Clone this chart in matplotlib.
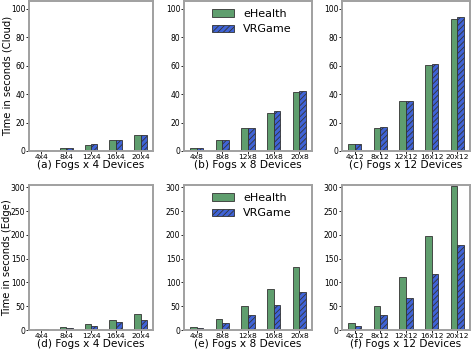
import matplotlib
matplotlib.use("Agg")
import matplotlib.pyplot as plt
import numpy as np

plt.rcParams['hatch.color'] = '#1a2a66'
plt.rcParams['hatch.linewidth'] = 0.6

fogs = ["4", "8", "12", "16", "20"]
devices = [4, 8, 12]
series_names = ["eHealth", "VRGame"]

cloud_ehealth = {4: [0.8, 2.3, 4.5, 7.5, 11.0],
                 8: [2.3, 7.5, 16.0, 27.0, 41.5],
                 12: [4.8, 16.2, 35.0, 60.3, 92.5]}
cloud_vrgame = {4: [0.9, 2.4, 4.8, 7.7, 11.3],
                8: [2.4, 7.8, 16.2, 27.8, 42.0],
                12: [5.0, 16.7, 35.3, 61.0, 94.0]}
edge_ehealth = {4: [2.0, 7.0, 13.0, 22.0, 33.5],
                8: [6.0, 23.0, 50.0, 86.0, 133.0],
                12: [14.0, 50.0, 111.0, 197.0, 303.0]}
edge_vrgame = {4: [1.5, 5.0, 9.0, 16.0, 22.0],
               8: [5.0, 15.0, 31.0, 53.0, 79.0],
               12: [9.0, 32.0, 68.0, 117.0, 179.0]}

green = '#5f9e6e'
blue = '#3f63d6'
spine_col = '#a0a0a0'

W, H = 474, 351
fig = plt.figure(figsize=(W / 100, H / 100), dpi=100)

cols_px = [(29, 153), (184, 312), (342, 470)]
rows_px = [(1, 151), (185, 330)]
ylabel_right_px = [13, 11.8]

letters = ['a', 'b', 'c', 'd', 'e', 'f']
bw = 0.26
for r, (top, bot) in enumerate(rows_px):
    ydata_e = cloud_ehealth if r == 0 else edge_ehealth
    ydata_v = cloud_vrgame if r == 0 else edge_vrgame
    for c, (l, rr) in enumerate(cols_px):
        d = devices[c]
        ax = fig.add_axes([l / W, 1 - bot / H, (rr - l) / W, (bot - top) / H])
        x = np.arange(len(fogs))
        ax.bar(x - bw / 2, ydata_e[d], bw, color=green, edgecolor='#333333',
               linewidth=0.6, label=series_names[0])
        ax.bar(x + bw / 2, ydata_v[d], bw, color=blue, edgecolor='#333333',
               linewidth=0.6, hatch='//////', label=series_names[1])
        ax.set_xticks(x)
        ax.set_xticklabels([f"{f}x{d}" for f in fogs], fontsize=5.4)
        if r == 0:
            ax.set_ylim(0, 105.5)
            ax.set_yticks([0, 20, 40, 60, 80, 100])
        else:
            ax.set_ylim(0, 305)
            ax.set_yticks([0, 50, 100, 150, 200, 250, 300])
        ax.tick_params(axis='y', labelsize=5.5, length=2, width=0.6, pad=0.6)
        ax.tick_params(axis='x', length=2, width=0.6, pad=0.5)
        for s in ax.spines.values():
            s.set_color(spine_col)
            s.set_linewidth(1.4)
        ax.set_xlabel(f"({letters[r * 3 + c]}) Fogs x {d} Devices", fontsize=7.6, labelpad=0)
        if c == 0:
            ax.set_ylabel("Time in seconds (Cloud)" if r == 0 else "Time in seconds (Edge)",
                          fontsize=7.2)
            ax.yaxis.set_label_coords((ylabel_right_px[r] - l) / (rr - l), 0.5)
        if c == 1:
            ax.legend(loc='upper center', frameon=False, fontsize=8,
                      handlelength=2.0, borderaxespad=0.3,
                      bbox_to_anchor=(0.53, 1.0))

fig.savefig("out.png", dpi=100)
